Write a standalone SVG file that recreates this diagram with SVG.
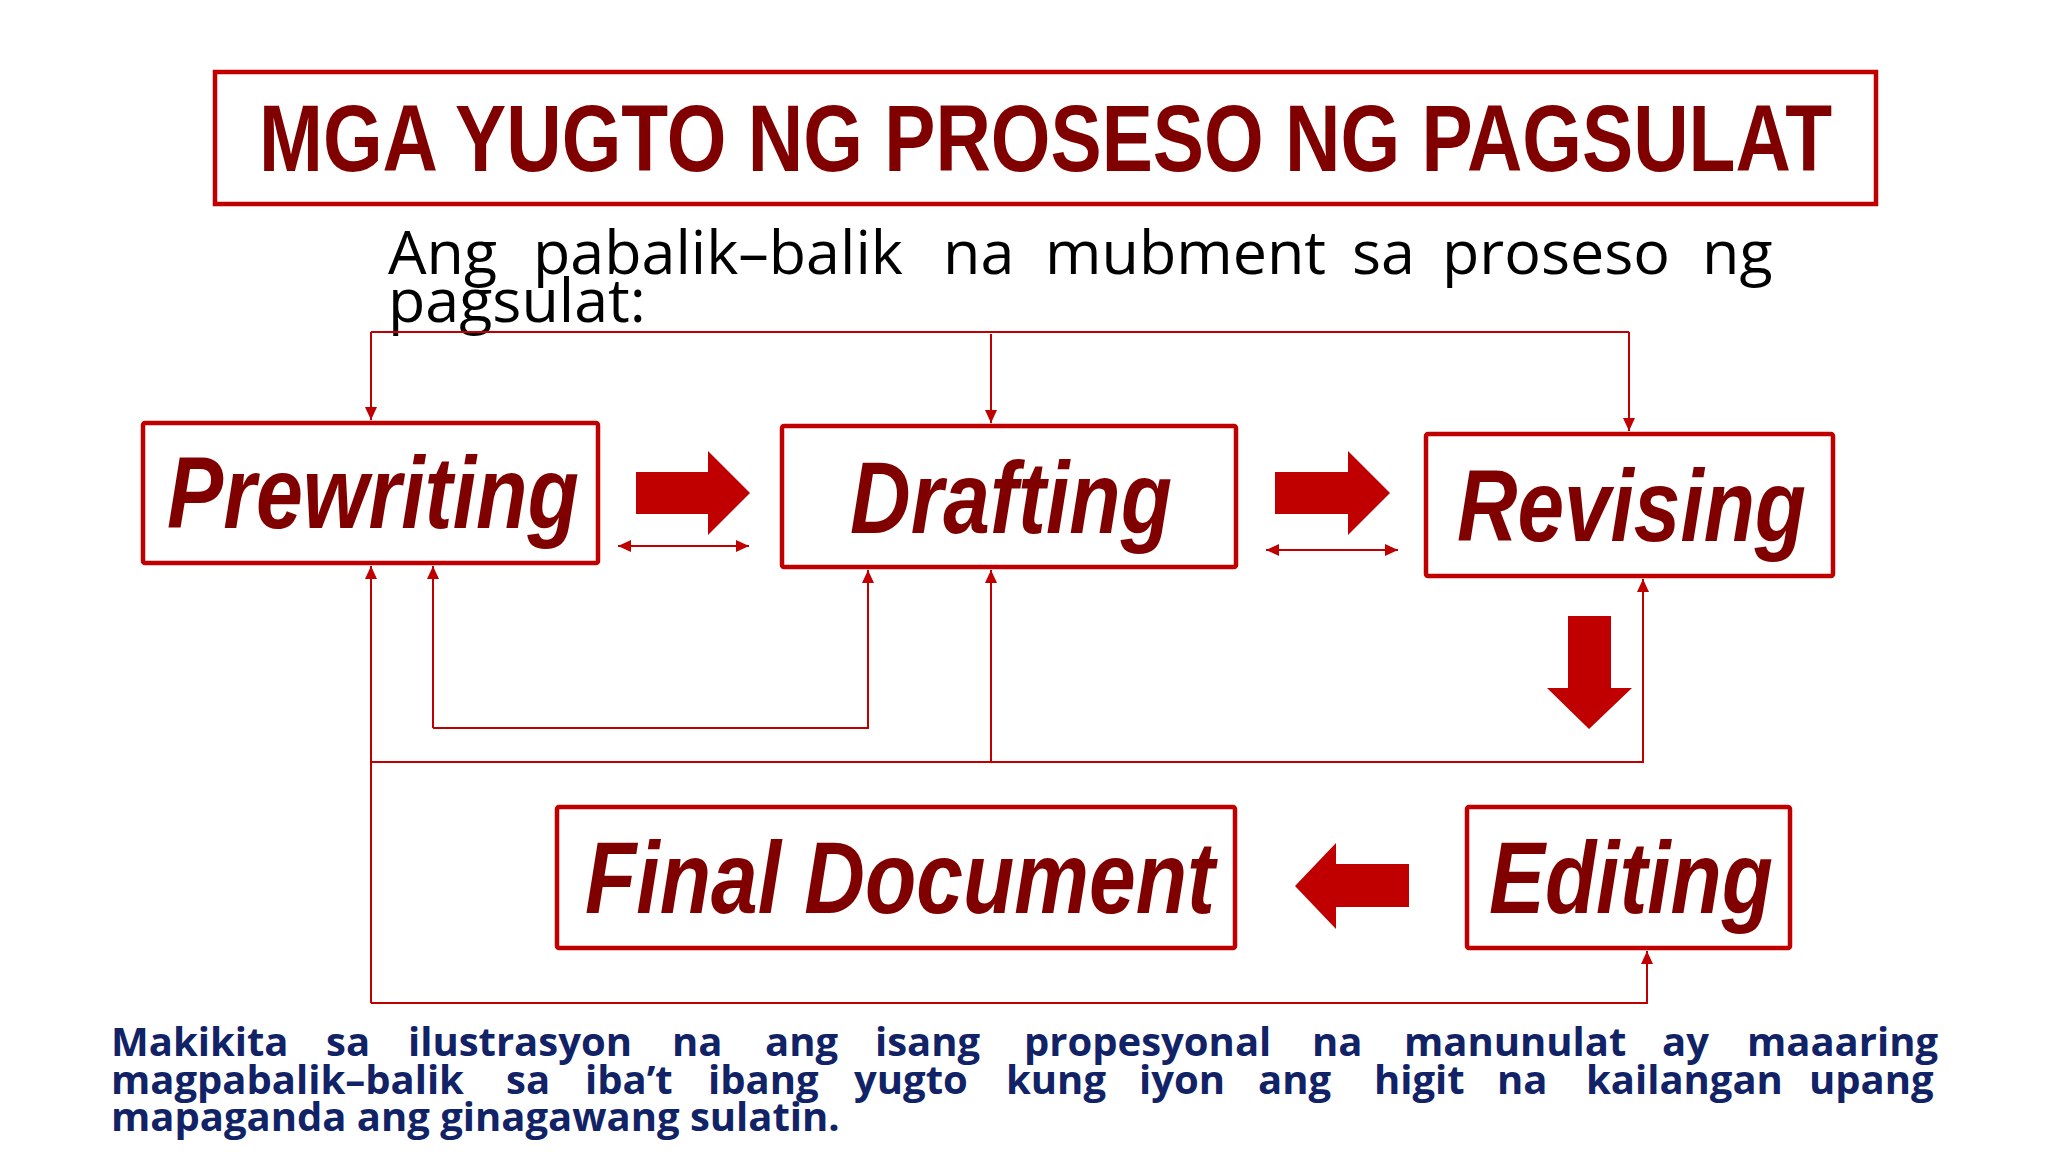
<svg xmlns="http://www.w3.org/2000/svg" width="2048" height="1152" viewBox="0 0 2048 1152">
<defs>
<style>
.box{fill:#ffffff;stroke:#c00000;stroke-width:4.5}
.lbl{font-family:"Liberation Sans",Arial,sans-serif;font-weight:bold;font-style:italic;font-size:102px;fill:#800000}
.title{font-family:"Liberation Sans",Arial,sans-serif;font-weight:bold;font-size:95px;fill:#800000}
.sub{font-family:"Open Sans","Noto Sans",sans-serif;font-size:61px;fill:#000000}
.para{font-family:"Open Sans","Noto Sans",sans-serif;font-weight:bold;font-size:40px;fill:#112366}
.conn{fill:none;stroke:#c00000;stroke-width:2}
.block{fill:#c00000}
</style>
<marker id="ah" markerUnits="userSpaceOnUse" markerWidth="14" markerHeight="12" refX="13" refY="6" orient="auto-start-reverse">
<path d="M0,0 L13,6 L0,12 z" fill="#c00000"/>
</marker>
</defs>
<rect width="2048" height="1152" fill="#ffffff"/>

<g id="title">
<rect x="215" y="72" width="1661" height="132" class="box"/>
<text x="259" y="171" class="title" textLength="1573" lengthAdjust="spacingAndGlyphs">MGA YUGTO NG PROSESO NG PAGSULAT</text>
</g>

<g id="subtitle">
<text class="sub" y="274"><tspan x="388">Ang</tspan><tspan x="533">pabalik–balik</tspan><tspan x="943">na</tspan><tspan x="1045">mubment</tspan><tspan x="1352">sa</tspan><tspan x="1442">proseso</tspan><tspan x="1702">ng</tspan></text>
<text class="sub" x="388" y="322">pagsulat:</text>
</g>

<g id="connectors">
<path class="conn" d="M371,332 H1629"/>
<path class="conn" d="M371,332 V420" marker-end="url(#ah)"/>
<path class="conn" d="M991,334 V423" marker-end="url(#ah)"/>
<path class="conn" d="M1629,332 V431" marker-end="url(#ah)"/>
<path class="conn" d="M433,728 V566" marker-end="url(#ah)"/>
<path class="conn" d="M433,728 H868 V570" marker-end="url(#ah)"/>
<path class="conn" d="M371,762 H1643 V579" marker-end="url(#ah)"/>
<path class="conn" d="M991,762 V570" marker-end="url(#ah)"/>
<path class="conn" d="M371,1003 V566" marker-end="url(#ah)"/>
<path class="conn" d="M371,1003 H1647 V951" marker-end="url(#ah)"/>
<path class="conn" d="M618,546 H749" marker-start="url(#ah)" marker-end="url(#ah)"/>
<path class="conn" d="M1266,550 H1398" marker-start="url(#ah)" marker-end="url(#ah)"/>
</g>

<g id="flow-arrows">
<polygon class="block" points="636,472 708,472 708,451 750,493 708,535 708,514 636,514"/>
<polygon class="block" points="1275,472 1348,472 1348,451 1390,493 1348,535 1348,514 1275,514"/>
<polygon class="block" points="1568,616 1611,616 1611,688 1632,688 1589,729 1547,688 1568,688"/>
<polygon class="block" points="1409,864 1336,864 1336,843 1295,886 1336,929 1336,907 1409,907"/>
</g>

<g id="prewriting">
<rect x="143" y="423" width="455" height="140" rx="2" class="box"/>
<text x="167" y="528" class="lbl" textLength="412" lengthAdjust="spacingAndGlyphs">Prewriting</text>
</g>
<g id="drafting">
<rect x="782" y="426" width="454" height="141" rx="2" class="box"/>
<text x="850" y="533" class="lbl" textLength="322" lengthAdjust="spacingAndGlyphs">Drafting</text>
</g>
<g id="revising">
<rect x="1426" y="434" width="407" height="142" rx="2" class="box"/>
<text x="1457" y="541" class="lbl" textLength="349" lengthAdjust="spacingAndGlyphs">Revising</text>
</g>
<g id="final-document">
<rect x="557" y="807" width="678" height="141" rx="2" class="box"/>
<text x="585" y="913" class="lbl" textLength="630" lengthAdjust="spacingAndGlyphs">Final Document</text>
</g>
<g id="editing">
<rect x="1467" y="807" width="323" height="141" rx="2" class="box"/>
<text x="1489" y="913" class="lbl" textLength="284" lengthAdjust="spacingAndGlyphs">Editing</text>
</g>

<g id="caption">
<text class="para" y="1056"><tspan x="111">Makikita</tspan><tspan x="326">sa</tspan><tspan x="408">ilustrasyon</tspan><tspan x="672">na</tspan><tspan x="765">ang</tspan><tspan x="875">isang</tspan><tspan x="1024">propesyonal</tspan><tspan x="1312">na</tspan><tspan x="1404">manunulat</tspan><tspan x="1662">ay</tspan><tspan x="1747">maaaring</tspan></text>
<text class="para" y="1094"><tspan x="111">magpabalik–balik</tspan><tspan x="506">sa</tspan><tspan x="585">iba’t</tspan><tspan x="708">ibang</tspan><tspan x="854">yugto</tspan><tspan x="1006">kung</tspan><tspan x="1139">iyon</tspan><tspan x="1258">ang</tspan><tspan x="1374">higit</tspan><tspan x="1497">na</tspan><tspan x="1586">kailangan</tspan><tspan x="1809">upang</tspan></text>
<text class="para" x="111" y="1131">mapaganda ang ginagawang sulatin.</text>
</g>
</svg>
